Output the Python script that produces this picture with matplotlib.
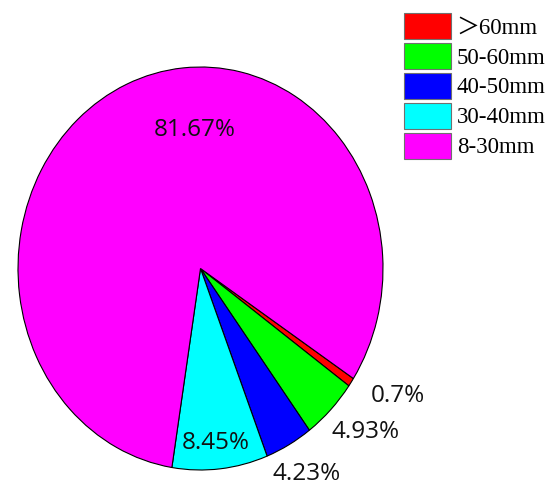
import matplotlib
matplotlib.use("Agg")
import matplotlib.pyplot as plt

categories = ["＞60mm", "50-60mm", "40-50mm", "30-40mm", "8-30mm"]
values = [0.7, 4.93, 4.23, 8.45, 81.67]
pct_labels = ["0.7%", "4.93%", "4.23%", "8.45%", "81.67%"]
colors = ["#FF0000", "#00FF00", "#0000FF", "#00FFFF", "#FF00FF"]

# label layout (data coords of the unit pie)
label_pos = [(1.081, -0.633), (0.904, -0.811), (0.584, -1.020),
             (0.082, -0.866), (-0.030, 0.687)]

W, H = 550, 501
fig = plt.figure(figsize=(W / 100, H / 100), dpi=100)
cx, cy, rx, ry = 200.5, 268.5, 182.5, 201.5
ax = fig.add_axes([(cx - rx) / W, (H - cy - ry) / H, 2 * rx / W, 2 * ry / H])

wedges, _ = ax.pie(values, colors=colors, startangle=-33.1, counterclock=False,
                   radius=1, center=(0, 0),
                   wedgeprops=dict(edgecolor="black", linewidth=0.8))
ax.set_aspect("auto")
ax.set_xlim(-1, 1)
ax.set_ylim(-1, 1)
ax.axis("off")

for (x, y), t in zip(label_pos, pct_labels):
    ax.text(x, y, t, ha="center", va="center", fontsize=17.5,
            family=["Open Sans", "DejaVu Sans"], color="#111111", clip_on=False)

fs = 16.5
leg = fig.legend(wedges, categories, loc="upper left",
                 bbox_to_anchor=(404 / W, 1 - 13 / H), bbox_transform=fig.transFigure,
                 frameon=False, borderpad=0, borderaxespad=0,
                 handlelength=2.05, handleheight=1.37, handletextpad=0.25,
                 labelspacing=0.17,
                 prop=dict(family=["Liberation Serif", "Noto Sans CJK SC"], size=fs))
for h in leg.legend_handles:
    h.set_edgecolor("#707070")
    h.set_linewidth(0.8)

fig.savefig("out.png", dpi=100)
